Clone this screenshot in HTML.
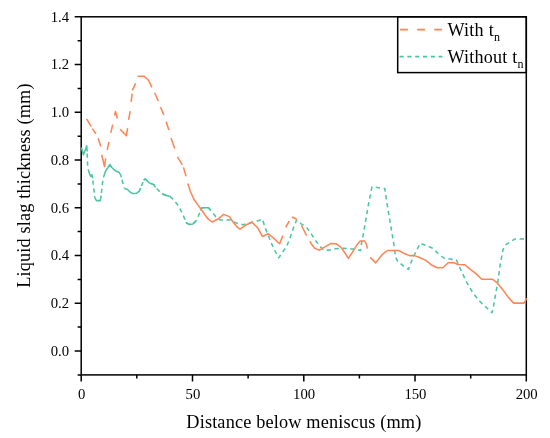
<!DOCTYPE html>
<html lang="en">
<head>
<meta charset="utf-8">
<title>Liquid slag thickness vs distance below meniscus</title>
<style>
html,body{margin:0;padding:0;background:#ffffff;}
body{width:550px;height:438px;overflow:hidden;}
svg{display:block;}
text{font-family:"Liberation Serif","Times New Roman",Times,serif;fill:#000;}
.tick{font-size:14.7px;}
.title{font-size:18.3px;}
.leg{font-size:18.1px;}
.sub{font-size:12px;}
.ax{stroke:#000;stroke-width:1.5;fill:none;stroke-linecap:butt;}
</style>
</head>
<body>
<svg width="550" height="438" viewBox="0 0 550 438">
<rect x="0" y="0" width="550" height="438" fill="#ffffff"/>

<rect class="ax" x="81.2" y="16.8" width="445.1" height="358.1"/>
<path class="ax" d="M74.7,16.8 H81.2 M74.7,64.5 H81.2 M74.7,112.3 H81.2 M74.7,160.0 H81.2 M74.7,207.8 H81.2 M74.7,255.5 H81.2 M74.7,303.3 H81.2 M74.7,351.0 H81.2 M77.6,40.7 H81.2 M77.6,88.4 H81.2 M77.6,136.2 H81.2 M77.6,183.9 H81.2 M77.6,231.6 H81.2 M77.6,279.4 H81.2 M77.6,327.1 H81.2 M77.6,374.9 H81.2 M81.2,374.9 V381.4 M192.5,374.9 V381.4 M303.8,374.9 V381.4 M415.0,374.9 V381.4 M526.3,374.9 V381.4 M136.8,374.9 V378.5 M248.1,374.9 V378.5 M359.4,374.9 V378.5 M470.7,374.9 V378.5"/>
<text class="tick" x="69" y="21.5" text-anchor="end">1.4</text>
<text class="tick" x="69" y="69.2" text-anchor="end">1.2</text>
<text class="tick" x="69" y="117.0" text-anchor="end">1.0</text>
<text class="tick" x="69" y="164.7" text-anchor="end">0.8</text>
<text class="tick" x="69" y="212.5" text-anchor="end">0.6</text>
<text class="tick" x="69" y="260.2" text-anchor="end">0.4</text>
<text class="tick" x="69" y="308.0" text-anchor="end">0.2</text>
<text class="tick" x="69" y="355.7" text-anchor="end">0.0</text>
<text class="tick" x="81.6" y="398.6" text-anchor="middle">0</text>
<text class="tick" x="192.9" y="398.6" text-anchor="middle">50</text>
<text class="tick" x="304.1" y="398.6" text-anchor="middle">100</text>
<text class="tick" x="415.4" y="398.6" text-anchor="middle">150</text>
<text class="tick" x="526.7" y="398.6" text-anchor="middle">200</text>
<text class="title" x="186.3" y="427.6" textLength="235" lengthAdjust="spacing">Distance below meniscus (mm)</text>
<text class="title" transform="translate(29.5,287.8) rotate(-90)" x="0" y="0" textLength="204.3" lengthAdjust="spacing">Liquid slag thickness (mm)</text>
<g fill="none" stroke="#4ac7a2" stroke-width="1.55" stroke-linejoin="round" stroke-linecap="butt">
<path d="M81.4,147.5 L83.4,154.7 L85.0,150.9 L86.7,145.7 L87.2,151.5"/>
<path d="M87.2,153.5 L87.3,158.0 L87.6,164.3 L88.2,169.4" stroke-dasharray="4.3 3.6"/>
<path d="M88.2,169.4 L89.5,173.8 L90.8,176.4 L91.8,174.7 L92.7,178.3"/>
<path d="M92.9,180.5 L93.3,186.0 L94.0,190.0 L94.3,194.3 L94.9,198.1" stroke-dasharray="4.3 3.6"/>
<path d="M94.9,198.1 L96.5,200.6 L100.3,200.6 L101.2,195.5"/>
<path d="M101.4,193.0 L102.0,186.6 L102.9,180.2 L103.6,177.0" stroke-dasharray="4.3 3.6"/>
<path d="M103.6,177.0 L105.5,171.3 L108.0,167.5 L109.9,164.5 L111.8,167.5 L114.4,170.0 L116.3,171.3 L118.9,172.2 L120.8,175.1 L121.4,177.3"/>
<path d="M122.0,179.8 L123.3,184.7 L124.4,188.3" stroke-dasharray="4.3 3.6"/>
<path d="M124.4,188.5 L127.2,189.2 L130.4,192.3 L132.9,193.6 L136.7,193.2 L139.3,191.1 L140.6,187.9"/>
<path d="M141.5,186.0 L142.7,182.8 L145.1,178.8 L149.1,182.8 L153.7,184.6 L157.3,189.2 L161.9,193.8 L166.5,195.6 L170.1,196.5 L173.8,200.1 L178.3,205.6 L182.9,214.7 L186.5,223.0 L189.3,224.4 L192.9,223.9 L196.6,220.2 L199.3,213.8 L202.0,207.8 L208.4,207.8 L212.1,212.0 L215.7,216.6 L220.3,219.9 L230.3,219.9 L235.5,222.8 L242.8,224.7 L250.1,222.8 L257.4,221.0 L262.5,219.2 L264.7,226.5 L268.3,235.6 L272.0,244.7 L275.6,252.0 L278.7,257.9 L282.0,253.0 L286.6,246.6 L290.2,237.4 L293.9,226.5 L296.6,220.1 L301.2,223.8 L306.6,227.4 L311.2,233.8 L315.8,241.1 L320.3,246.6 L323.6,250.1 L329.1,250.1 L335.5,248.7 L343.7,248.3 L351.9,248.9 L356.5,249.2 L360.5,250.5 L361.6,242.8 L363.8,231.9 L368.4,204.7 L371.1,191.0 L372.0,186.8 L384.8,188.6 L386.6,201.0 L389.3,217.4 L392.1,233.9 L393.9,244.7 L395.7,257.4 L397.6,261.1 L403.0,265.7 L408.5,269.3 L411.2,262.0 L414.9,253.8 L420.0,243.4 L426.4,245.5 L432.8,248.3 L438.3,253.8 L443.8,258.0 L450.1,258.9 L456.5,260.1 L459.3,266.5 L462.6,273.8 L467.0,282.8 L472.1,291.7 L477.9,299.4 L484.3,305.8 L488.7,309.6 L491.9,312.8 L493.5,305.8 L495.8,293.0 L497.7,282.8 L500.2,264.7 L502.9,250.1 L504.7,245.5 L510.2,241.9 L514.8,239.1 L526.3,238.8" stroke-dasharray="4.3 3.6"/>
<path d="M143.6,180.4 L145.1,178.8 L149.1,182.8 L153.7,184.6 L155.5,187.4"/>
<path d="M161.9,193.8 L166.5,195.6 L170.1,196.5"/>
<path d="M186.0,222.0 L186.5,223.0 L189.3,224.4 L192.9,223.9 L195.7,221.1"/>
<path d="M200.2,210.2 L202.0,207.8 L208.4,207.8 L210.3,209.6"/>
</g>
<g fill="none" stroke="#fe8656" stroke-width="1.55" stroke-linejoin="round" stroke-linecap="butt">
<path d="M86.6,118.8 L91.2,126.7"/>
<path d="M92.3,128.6 L95.9,133.7"/>
<path d="M98.1,138.3 L100.8,146.5"/>
<path d="M101.7,154.7 L104.5,166.6 L105.7,158.4"/>
<path d="M107.2,150.1 L109.0,141.9"/>
<path d="M110.8,132.8 L112.7,124.6"/>
<path d="M114.5,115.5 L115.5,111.5 L117.4,118.5"/>
<path d="M120.0,129.2 L126.4,135.6 L127.6,128.2"/>
<path d="M128.6,119.8 L130.2,111.2"/>
<path d="M131.1,101.9 L132.1,93.6"/>
<path d="M132.4,90.4 L135.6,83.4"/>
<path d="M137.5,76.6 L140.0,76.2 L143.8,76.2 L148.3,80.0 L151.9,87.4"/>
<path d="M154.6,92.8 L158.3,101.0"/>
<path d="M160.5,107.0 L163.8,114.9"/>
<path d="M166.2,121.7 L168.8,129.9"/>
<path d="M171.0,138.0 L174.7,148.4"/>
<path d="M177.4,156.9 L182.3,164.8"/>
<path d="M183.5,167.4 L186.0,176.2"/>
<path d="M285.7,227.4 L289.3,221.0"/>
<path d="M291.7,217.5 L293.0,217.3 L296.6,219.2"/>
<path d="M301.5,225.5 L306.6,235.6"/>
<path d="M187.8,183.4 L190.2,191.0 L193.8,199.2 L198.4,205.6 L203.0,212.0 L207.5,218.4 L212.1,222.0 L217.6,219.3 L223.6,214.4 L229.4,216.6 L233.1,222.0 L236.7,226.6 L240.0,229.2 L246.4,224.7 L251.9,222.3 L257.4,227.4 L262.5,236.5 L268.3,233.8 L273.8,238.4 L279.6,243.8 L282.9,235.6"/>
<path d="M309.9,241.1 L311.2,243.8 L314.9,248.4 L319.4,250.2 L324.9,246.9 L331.0,243.4 L336.4,243.8 L341.0,247.4 L345.5,253.8 L348.3,258.4 L352.0,252.9 L356.5,245.6 L360.1,241.0 L364.7,241.0 L366.5,244.7 L367.4,248.7"/>
<path d="M370.2,257.4 L375.7,262.9 L382.0,254.7 L387.5,250.5 L398.5,250.5 L403.9,253.2 L409.4,255.6 L414.6,255.6 L420.0,257.8 L425.5,260.1 L431.0,264.7 L437.4,267.8 L442.8,267.8 L448.2,262.8 L454.2,262.8 L457.7,264.5 L464.8,264.8 L470.7,269.6 L476.0,273.6 L481.7,279.2 L492.8,279.3 L497.2,282.9 L503.2,290.3 L508.5,297.6 L513.7,303.1 L523.9,303.1 L525.6,300.5 L526.3,298.0"/>
</g>
<rect class="ax" x="397.7" y="16.8" width="128.6" height="55.8" fill="#fff"/>
<path d="M400,29.6 H442.4" stroke="#fe8656" stroke-width="1.6" stroke-dasharray="7.9 9.2" fill="none"/>
<path d="M399.6,56.7 H442.4" stroke="#4ac7a2" stroke-width="1.7" stroke-dasharray="4.1 3.7" fill="none"/>
<text class="leg" x="447.5" y="35.8" textLength="46.2" lengthAdjust="spacing">With t</text><text class="sub" x="493.9" y="40.5">n</text>
<text class="leg" x="447.5" y="62.8" textLength="69.9" lengthAdjust="spacing">Without t</text><text class="sub" x="517.6" y="67.6">n</text>
</svg>
</body>
</html>
